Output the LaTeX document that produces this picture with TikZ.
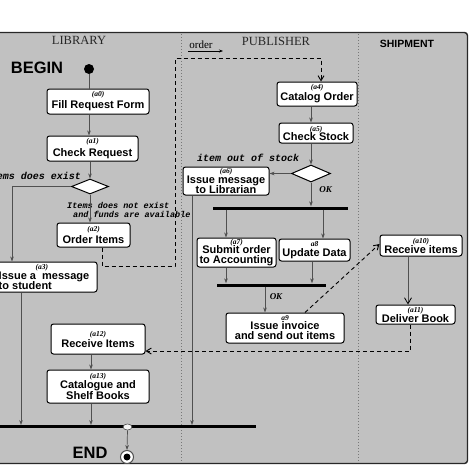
\documentclass[tikz,border=0pt]{standalone}
\usepackage{fontspec}
\setmainfont{Liberation Serif}
\setsansfont{Liberation Sans}
\setmonofont{Liberation Mono}
\usetikzlibrary{shapes.geometric,arrows.meta}
\definecolor{bggray}{RGB}{193,193,193}
\definecolor{linegray}{RGB}{80,80,80}
\definecolor{framec}{RGB}{40,40,40}
\definecolor{lanec}{RGB}{120,120,120}
\newcommand\actlab[1]{{\rmfamily\itshape\fontsize{7.5}{7.5}\selectfont #1}}
\newcommand\boxfont{\sffamily\bfseries\fontsize{11}{10}\selectfont}
\begin{document}
\begin{tikzpicture}[x=1pt,y=-1pt,
  box/.style={draw=black, line width=1pt, fill=white, rounded corners=2.5pt, inner sep=0pt, align=center, font=\boxfont, text=black},
  flow/.style={draw=linegray, line width=0.7pt, -{Stealth[length=5pt,width=3.6pt]}},
  flowplain/.style={draw=linegray, line width=0.7pt},
  flowv/.style={draw=linegray, line width=0.8pt, -{Straight Barb[length=6pt,width=7pt,color=black]}},
  msg/.style={draw=black, line width=0.9pt, dash pattern=on 4pt off 3pt, -{Straight Barb[length=5pt,width=6pt]}},
  bar/.style={fill=black, inner sep=0pt, minimum height=3pt},
  guard/.style={font={\ttfamily\bfseries\itshape\fontsize{10}{10}\selectfont}, inner sep=0pt},
  guardsmall/.style={font={\ttfamily\bfseries\itshape\fontsize{8.5}{8.5}\selectfont}, inner sep=0pt},
  okstyle/.style={font={\rmfamily\bfseries\itshape\fontsize{9}{9}\selectfont}, inner sep=0pt},
  lane/.style={font={\rmfamily\fontsize{12.5}{12.5}\selectfont}, inner sep=0pt, text=black!85},
  lanediv/.style={draw=lanec, line width=0.6pt, dash pattern=on 1pt off 2pt},
  big/.style={font={\sffamily\bfseries\fontsize{16.5}{16.5}\selectfont}, inner sep=0pt}
]
\useasboundingbox (0,0) rectangle (474,474);
\clip (0,0) rectangle (474,474);
\fill[white] (0,0) rectangle (474,474);
\path[fill=bggray, draw=framec, line width=1.4pt, rounded corners=3pt] (-10,32.5) -- (467.5,32.5) -- (467.5,463.5) -- (-10,463.5);
\draw[lanediv] (181.5,34) -- (181.5,462.5);
\draw[lanediv] (358,34) -- (358,462.5);

% headers
\node[lane] (lib) at (79,40) {LIBRARY};
\node[lane] (pub) at (276,41) {PUBLISHER};
\node[font={\sffamily\bfseries\fontsize{10.5}{10.5}\selectfont}, inner sep=0pt] (ship) at (407,44) {SHIPMENT};

\node[big] (begin) at (37,68) {BEGIN};
\node[circle, fill=black, minimum size=10pt, inner sep=0pt] (start) at (89,69) {};

% activities
\node[box, minimum width=102pt, minimum height=25pt] (a0) at (98,101.5) {\actlab{(a0)}\\[2pt]Fill Request Form};
\node[box, minimum width=91pt, minimum height=25pt] (a1) at (92.5,148.5) {\actlab{(a1)}\\[3pt]Check Request};
\node[box, minimum width=73pt, minimum height=24pt] (a2) at (93.5,235) {\actlab{(a2)}\\[2pt]Order Items};
\node[box, align=left, minimum width=106pt, minimum height=30pt] (a3) at (44,277) {\hspace*{37pt}\actlab{(a3)}\\[0pt]Issue a\ \ message\\[-1pt]to student};
\node[box, minimum width=80pt, minimum height=24pt] (a4) at (317,94) {\actlab{(a4)}\\[1pt]Catalog Order};
\node[box, minimum width=74pt, minimum height=20pt] (a5) at (316,133) {\actlab{(a5)}\\[-1pt]Check Stock};
\node[box, minimum width=86pt, minimum height=28pt] (a6) at (226,181) {\actlab{(a6)}\\[0pt]Issue message\\[-1pt]to Librarian};
\node[box, minimum width=79pt, minimum height=29pt] (a7) at (236.5,252.5) {\actlab{(a7)}\\[-1pt]Submit order\\[-0.5pt]to Accounting};
\node[box, minimum width=71pt, minimum height=22pt] (a8) at (314.5,250) {\actlab{a8}\\[0pt]Update Data};
\node[box, minimum width=118pt, minimum height=30pt] (a9) at (285,328) {\actlab{a9}\\[-1pt]Issue invoice\\[0pt]and send out items};
\node[box, minimum width=82pt, minimum height=21pt] (a10) at (421,245.5) {\actlab{(a10)}\\[0pt]Receive items};
\node[box, minimum width=79pt, minimum height=19pt] (a11) at (415.5,314.5) {\actlab{(a11)}\\[0pt]Deliver Book};
\node[box, minimum width=94pt, minimum height=30pt] (a12) at (98,339) {\actlab{(a12)}\\[1pt]Receive Items};
\node[box, minimum width=102pt, minimum height=33pt] (a13) at (98,386.5) {\actlab{(a13)}\\[0pt]Catalogue and\\[0pt]Shelf Books};

% decisions
\node[diamond, draw=black, line width=1pt, fill=white, minimum width=37pt, minimum height=15pt, inner sep=0pt] (d1) at (90,186.5) {};
\node[diamond, draw=black, line width=1pt, fill=white, minimum width=39pt, minimum height=17pt, inner sep=0pt] (d2) at (311,173.5) {};

% bars
\node[bar, minimum width=135pt] (fork1) at (280.5,208) {};
\node[bar, minimum width=109pt] (join1) at (271.5,285) {};
\node[bar, minimum width=266pt, minimum height=2.5pt] (join2) at (123,426.5) {};

% end
\node[ellipse, draw=linegray, fill=white!92!gray, line width=0.6pt, minimum width=9pt, minimum height=6pt, inner sep=0pt] (merge) at (127.5,427) {};
\node[circle, draw=linegray, line width=1pt, fill=white, minimum size=13pt, inner sep=0pt] (endo) at (127,457) {};
\node[circle, fill=black, minimum size=7pt, inner sep=0pt] (endi) at (127,457) {};
\node[big] (endt) at (90,453) {END};

% guards and labels
\node[guard, anchor=east] (g1) at (81,176) {Items does exist};
\node[guardsmall, anchor=west] (g2) at (67,205) {Items does not exist};
\node[guardsmall, anchor=west] (g3) at (73,214) {and funds are available};
\node[guard, anchor=west] (g4) at (197,158) {item out of stock};
\node[okstyle] (ok1) at (325.5,190) {OK};
\node[okstyle] (ok2) at (276,297) {OK};
\node[font={\rmfamily\fontsize{11}{11}\selectfont}, inner sep=0pt] (ord) at (201,44.5) {order};
\coordinate (o1) at (188,51);
\coordinate (o2) at (223,51);
\draw[black, line width=0.7pt, -{Stealth[length=4pt,width=3pt]}] (o1) -- (o2);

% helper x positions
\coordinate (k3) at (12,0);
\coordinate (k3b) at (21,0);
\coordinate (k2) at (102,266);
\coordinate (k2b) at (175,58);
\coordinate (k4) at (321,0);
\coordinate (k6) at (192,0);
\coordinate (k7) at (226,0);
\coordinate (k8) at (323,0);
\coordinate (k8b) at (312,0);
\coordinate (k9) at (265,0);
\coordinate (k9b) at (305,0);
\coordinate (k10) at (0,244);
\coordinate (k10b) at (408,0);
\coordinate (k11) at (410,351);
\coordinate (k12) at (91,0);

% connectors
\draw[flowplain] (start) -- (start |- a0.north);
\draw[flow] (start |- a0.south) -- (start |- a1.north);
\draw[flow] (d1 |- a1.south) -- (d1.north);
\draw[flow] (d1.south) -- (d1 |- a2.north);
\draw[flow] (d1.west) -| (k3 |- a3.north);
\draw[msg] (k2 |- a2.south) -- (k2) -| (k2b) -| (k4 |- a4.north);
\draw[flow] (d2 |- a4.south) -- (d2 |- a5.north);
\draw[flow] (d2 |- a5.south) -- (d2.north);
\draw[flow] (d2.west) -- (d2.west -| a6.east);
\draw[flow] (d2.south) -- (d2 |- fork1.north);
\draw[flow] (k7 |- fork1.south) -- (k7 |- a7.north);
\draw[flow] (k8 |- fork1.south) -- (k8 |- a8.north);
\draw[flow] (k7 |- a7.south) -- (k7 |- join1.north);
\draw[flow] (k8b |- a8.south) -- (k8b |- join1.north);
\draw[flow] (k9 |- join1.south) -- (k9 |- a9.north);
\draw[msg] (k9b |- a9.north) -- (k10 -| a10.west);
\draw[flowv] (k10b |- a10.south) -- (k10b |- a11.north);
\draw[msg] (k11 |- a11.south) -- (k11) -- (k11 -| a12.east);
\draw[flow] (k12 |- a12.south) -- (k12 |- a13.north);
\draw[flow] (k12 |- a13.south) -- (k12 |- join2.north);
\draw[flow] (k3b |- a3.south) -- (k3b |- join2.north);
\draw[flow] (k6 |- a6.south) -- (k6 |- join2.north);
\draw[flow] (merge.south) -- (endo.north);
\end{tikzpicture}
\end{document}
